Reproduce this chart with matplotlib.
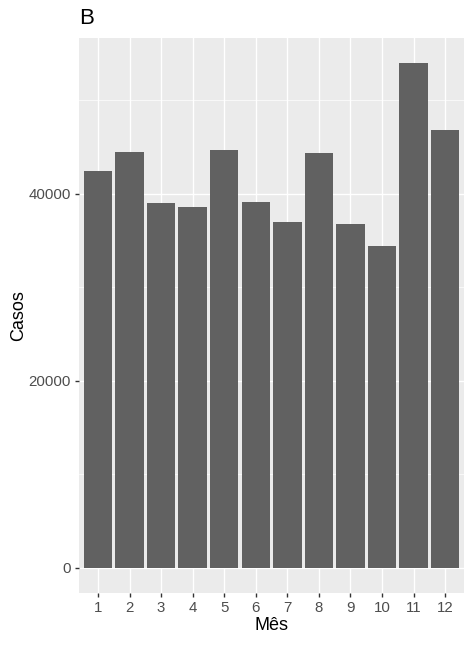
import matplotlib.pyplot as plt
import numpy as np

plt.rcParams['font.family'] = ['Liberation Sans', 'DejaVu Sans']

# casos por mês
meses = ['1', '2', '3', '4', '5', '6', '7', '8', '9', '10', '11', '12']
casos = [42420, 44440, 39080, 38650, 44660, 39150, 37050, 44410, 36770, 34390, 53980, 46790]

fig = plt.figure(figsize=(4.74, 6.45), dpi=100)
ax = fig.add_axes([0.1667, 0.0806, 0.8123, 0.8604])
ax.set_facecolor('#EBEBEB')

x = np.arange(1, len(meses) + 1)
ax.bar(x, casos, width=0.9, color='#616161', zorder=3)

# escalas no estilo ggplot (expansão de 5% / 0.6 unidades)
top = max(casos)
ax.set_ylim(-0.05 * top, 1.05 * top)
ax.set_xlim(0.4, len(meses) + 0.6)

ax.set_yticks([0, 20000, 40000])
ax.set_yticklabels(['0', '20000', '40000'])
ax.set_yticks([10000, 30000, 50000], minor=True)
ax.set_xticks(x)
ax.set_xticklabels(meses)

ax.grid(which='major', color='white', linewidth=1.0, zorder=0)
ax.grid(which='minor', axis='y', color='white', linewidth=0.5, zorder=0)
ax.set_axisbelow(True)

for s in ax.spines.values():
    s.set_visible(False)

ax.tick_params(which='major', length=3, width=1, color='#333333',
               labelcolor='#4d4d4d', labelsize=10.8, pad=3)
ax.tick_params(which='minor', length=0)

ax.set_xlabel('Mês', fontsize=13, labelpad=1)
ax.set_ylabel('Casos', fontsize=13, labelpad=1)
fig.text(0.1667, 0.972, 'B', fontsize=16, ha='left', va='center')

fig.savefig('out.png', dpi=100)
